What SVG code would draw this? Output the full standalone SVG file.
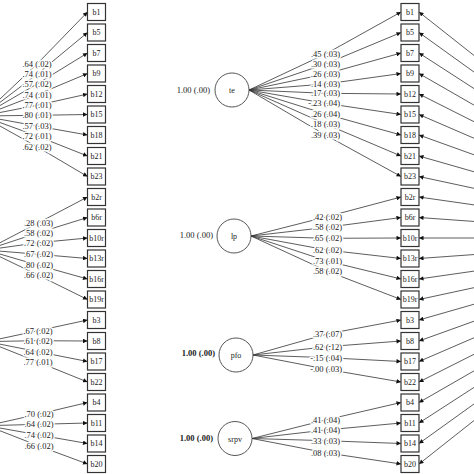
<svg xmlns="http://www.w3.org/2000/svg" width="474" height="474" viewBox="0 0 474 474">
<style>
.b{fill:#fff;stroke:#333;stroke-width:1.2}
.bt{font-family:"Liberation Serif",serif;font-size:8px;fill:#222;text-anchor:middle}
.c{fill:#fff;stroke:#444;stroke-width:0.9}
.e{fill:none;stroke:#333;stroke-width:0.8;marker-end:url(#ah)}
.l{font-family:"Liberation Serif",serif;font-size:8.5px;fill:#222;paint-order:stroke;stroke:#fff;stroke-width:3px;stroke-linejoin:round}
.lm{text-anchor:middle}
.le{text-anchor:end}
.v{font-family:"Liberation Serif",serif;font-size:8.5px;fill:#222;text-anchor:end}
</style>
<defs>
<marker id="ah" viewBox="0 0 6 6" refX="6" refY="3" markerWidth="5" markerHeight="4.5" orient="auto" markerUnits="userSpaceOnUse">
<path d="M0,0 L6,3 L0,6 z" fill="#111"/>
</marker>
</defs>
<rect width="474" height="474" fill="#fff"/>
<g id="connectors">
<polyline class="e" points="-18,116 37,64 87.5,12"/>
<polyline class="e" points="-18,116 37,74.3 87.5,32.5"/>
<polyline class="e" points="-18,116 37,84 87.5,53"/>
<polyline class="e" points="-18,116 37,94.7 87.5,73.5"/>
<polyline class="e" points="-18,116 37,105.3 87.5,94"/>
<polyline class="e" points="-18,116 37,115.3 87.5,114.5"/>
<polyline class="e" points="-18,116 37,126 87.5,135"/>
<polyline class="e" points="-18,116 37,136 87.5,156"/>
<polyline class="e" points="-18,116 37,146.7 87.5,176.5"/>
<polyline class="e" points="-14,250 38.5,222.7 87.5,197"/>
<polyline class="e" points="-14,250 38.5,232.7 87.5,217.5"/>
<polyline class="e" points="-14,250 38.5,242.7 87.5,238"/>
<polyline class="e" points="-14,250 38.5,254.3 87.5,258.5"/>
<polyline class="e" points="-14,250 38.5,265.3 87.5,279"/>
<polyline class="e" points="-14,250 38.5,275.3 87.5,299.5"/>
<polyline class="e" points="-13,341.6 38,330.7 87.5,320"/>
<polyline class="e" points="-13,341.6 38,340.7 87.5,341"/>
<polyline class="e" points="-13,341.6 38,351.7 87.5,361.5"/>
<polyline class="e" points="-13,341.6 38,362 87.5,382"/>
<polyline class="e" points="-13,425.7 39,414 87.5,402.5"/>
<polyline class="e" points="-13,425.7 39,424.3 87.5,423"/>
<polyline class="e" points="-13,425.7 39,435 87.5,443.5"/>
<polyline class="e" points="-13,425.7 39,446 87.5,464"/>
<polyline class="e" points="249,90 325.5,54 401,12"/>
<polyline class="e" points="249,90 325.5,64 401,32.5"/>
<polyline class="e" points="249,90 325.5,74 401,53"/>
<polyline class="e" points="249,90 325.5,84 401,73.5"/>
<polyline class="e" points="249,90 325.5,93.3 401,94"/>
<polyline class="e" points="249,90 325.5,103.3 401,114.5"/>
<polyline class="e" points="249,90 325.5,114 401,135"/>
<polyline class="e" points="249,90 325.5,124 401,156"/>
<polyline class="e" points="249,90 325.5,135 401,176.5"/>
<polyline class="e" points="251,236 327,216.7 401,197"/>
<polyline class="e" points="251,236 327,227.3 401,217.5"/>
<polyline class="e" points="251,236 327,238.3 401,238"/>
<polyline class="e" points="251,236 327,250 401,258.5"/>
<polyline class="e" points="251,236 327,261 401,279"/>
<polyline class="e" points="251,236 327,271 401,299.5"/>
<polyline class="e" points="253,355 327,334 401,320"/>
<polyline class="e" points="253,355 327,346.7 401,341"/>
<polyline class="e" points="253,355 327,357.7 401,361.5"/>
<polyline class="e" points="253,355 327,369.3 401,382"/>
<polyline class="e" points="252,438.5 325.5,420 401,402.5"/>
<polyline class="e" points="252,438.5 325.5,430 401,423"/>
<polyline class="e" points="252,438.5 325.5,440.7 401,443.5"/>
<polyline class="e" points="252,438.5 325.5,452.7 401,464"/>
<line class="e" x1="705" y1="238" x2="419" y2="12"/>
<line class="e" x1="705" y1="238" x2="419" y2="32.5"/>
<line class="e" x1="705" y1="238" x2="419" y2="53"/>
<line class="e" x1="705" y1="238" x2="419" y2="73.5"/>
<line class="e" x1="705" y1="238" x2="419" y2="94"/>
<line class="e" x1="705" y1="238" x2="419" y2="114.5"/>
<line class="e" x1="705" y1="238" x2="419" y2="135"/>
<line class="e" x1="705" y1="238" x2="419" y2="156"/>
<line class="e" x1="705" y1="238" x2="419" y2="176.5"/>
<line class="e" x1="705" y1="238" x2="419" y2="197"/>
<line class="e" x1="705" y1="238" x2="419" y2="217.5"/>
<line class="e" x1="705" y1="238" x2="419" y2="238"/>
<line class="e" x1="705" y1="238" x2="419" y2="258.5"/>
<line class="e" x1="705" y1="238" x2="419" y2="279"/>
<line class="e" x1="705" y1="238" x2="419" y2="299.5"/>
<line class="e" x1="705" y1="238" x2="419" y2="320"/>
<line class="e" x1="705" y1="238" x2="419" y2="341"/>
<line class="e" x1="705" y1="238" x2="419" y2="361.5"/>
<line class="e" x1="705" y1="238" x2="419" y2="382"/>
<line class="e" x1="705" y1="238" x2="419" y2="402.5"/>
<line class="e" x1="705" y1="238" x2="419" y2="423"/>
<line class="e" x1="705" y1="238" x2="419" y2="443.5"/>
<line class="e" x1="705" y1="238" x2="419" y2="464"/>
</g>
<g id="edge-labels">
<text class="l lm" x="37" y="67">.64 (.02)</text>
<text class="l lm" x="37" y="77.3">.74 (.01)</text>
<text class="l lm" x="37" y="87">.57 (.02)</text>
<text class="l lm" x="37" y="97.7">.74 (.01)</text>
<text class="l lm" x="37" y="108.3">.77 (.01)</text>
<text class="l lm" x="37" y="118.3">.80 (.01)</text>
<text class="l lm" x="37" y="129">.57 (.03)</text>
<text class="l lm" x="37" y="139">.72 (.01)</text>
<text class="l lm" x="37" y="149.7">.62 (.02)</text>
<text class="l lm" x="38.5" y="225.7">.28 (.03)</text>
<text class="l lm" x="38.5" y="235.7">.58 (.02)</text>
<text class="l lm" x="38.5" y="245.7">.72 (.02)</text>
<text class="l lm" x="38.5" y="257.3">.67 (.02)</text>
<text class="l lm" x="38.5" y="268.3">.80 (.02)</text>
<text class="l lm" x="38.5" y="278.3">.66 (.02)</text>
<text class="l lm" x="38" y="333.7">.67 (.02)</text>
<text class="l lm" x="38" y="343.7">.61 (.02)</text>
<text class="l lm" x="38" y="354.7">.64 (.02)</text>
<text class="l lm" x="38" y="365">.77 (.01)</text>
<text class="l lm" x="39" y="417">.70 (.02)</text>
<text class="l lm" x="39" y="427.3">.64 (.02)</text>
<text class="l lm" x="39" y="438">.74 (.02)</text>
<text class="l lm" x="39" y="449">.66 (.02)</text>
<text class="l le" x="340" y="57">.45 (.03)</text>
<text class="l le" x="340" y="67">.30 (.03)</text>
<text class="l le" x="340" y="77">.26 (.03)</text>
<text class="l le" x="340" y="87">.14 (.03)</text>
<text class="l le" x="340" y="96.3">.17 (.03)</text>
<text class="l le" x="340" y="106.3">-.23 (.04)</text>
<text class="l le" x="340" y="117">.26 (.04)</text>
<text class="l le" x="340" y="127">.18 (.03)</text>
<text class="l le" x="340" y="138">.39 (.03)</text>
<text class="l le" x="342" y="219.7">.42 (.02)</text>
<text class="l le" x="342" y="230.3">.58 (.02)</text>
<text class="l le" x="342" y="241.3">.65 (.02)</text>
<text class="l le" x="342" y="253">.62 (.02)</text>
<text class="l le" x="342" y="264">.73 (.01)</text>
<text class="l le" x="342" y="274">.58 (.02)</text>
<text class="l le" x="342" y="337">.37 (.07)</text>
<text class="l le" x="342" y="349.7">.62 (.12)</text>
<text class="l le" x="342" y="360.7">-.15 (.04)</text>
<text class="l le" x="342" y="372.3">-.00 (.03)</text>
<text class="l le" x="340" y="423">.41 (.04)</text>
<text class="l le" x="340" y="433">.41 (.04)</text>
<text class="l le" x="340" y="443.7">.33 (.03)</text>
<text class="l le" x="340" y="455.7">.08 (.03)</text>
</g>
<g id="te"><circle class="c" cx="232" cy="90" r="17"/><text class="bt" x="232" y="93">te</text><text class="v" x="210" y="93">1.00 (.00)</text></g>
<g id="lp"><circle class="c" cx="234" cy="236" r="17"/><text class="bt" x="234" y="239">lp</text><text class="v" x="213" y="238">1.00 (.00)</text></g>
<g id="pfo"><circle class="c" cx="236" cy="355" r="17"/><text class="bt" x="236" y="358">pfo</text><text class="v" x="215" y="356" font-weight="bold">1.00 (.00)</text></g>
<g id="srpv"><circle class="c" cx="235" cy="438.5" r="17"/><text class="bt" x="235" y="441.5">srpv</text><text class="v" x="213" y="441" font-weight="bold">1.00 (.00)</text></g>
<g id="L-b1"><rect class="b" x="87.5" y="3.5" width="18" height="17"/><text class="bt" x="96.5" y="14.8">b1</text></g>
<g id="L-b5"><rect class="b" x="87.5" y="24" width="18" height="17"/><text class="bt" x="96.5" y="35.3">b5</text></g>
<g id="L-b7"><rect class="b" x="87.5" y="44.5" width="18" height="17"/><text class="bt" x="96.5" y="55.8">b7</text></g>
<g id="L-b9"><rect class="b" x="87.5" y="65" width="18" height="17"/><text class="bt" x="96.5" y="76.3">b9</text></g>
<g id="L-b12"><rect class="b" x="87.5" y="85.5" width="18" height="17"/><text class="bt" x="96.5" y="96.8">b12</text></g>
<g id="L-b15"><rect class="b" x="87.5" y="106" width="18" height="17"/><text class="bt" x="96.5" y="117.3">b15</text></g>
<g id="L-b18"><rect class="b" x="87.5" y="126.5" width="18" height="17"/><text class="bt" x="96.5" y="137.8">b18</text></g>
<g id="L-b21"><rect class="b" x="87.5" y="147.5" width="18" height="17"/><text class="bt" x="96.5" y="158.8">b21</text></g>
<g id="L-b23"><rect class="b" x="87.5" y="168" width="18" height="17"/><text class="bt" x="96.5" y="179.3">b23</text></g>
<g id="L-b2r"><rect class="b" x="87.5" y="188.5" width="18" height="17"/><text class="bt" x="96.5" y="199.8">b2r</text></g>
<g id="L-b6r"><rect class="b" x="87.5" y="209" width="18" height="17"/><text class="bt" x="96.5" y="220.3">b6r</text></g>
<g id="L-b10r"><rect class="b" x="87.5" y="229.5" width="18" height="17"/><text class="bt" x="96.5" y="240.8">b10r</text></g>
<g id="L-b13r"><rect class="b" x="87.5" y="250" width="18" height="17"/><text class="bt" x="96.5" y="261.3">b13r</text></g>
<g id="L-b16r"><rect class="b" x="87.5" y="270.5" width="18" height="17"/><text class="bt" x="96.5" y="281.8">b16r</text></g>
<g id="L-b19r"><rect class="b" x="87.5" y="291" width="18" height="17"/><text class="bt" x="96.5" y="302.3">b19r</text></g>
<g id="L-b3"><rect class="b" x="87.5" y="311.5" width="18" height="17"/><text class="bt" x="96.5" y="322.8">b3</text></g>
<g id="L-b8"><rect class="b" x="87.5" y="332.5" width="18" height="17"/><text class="bt" x="96.5" y="343.8">b8</text></g>
<g id="L-b17"><rect class="b" x="87.5" y="353" width="18" height="17"/><text class="bt" x="96.5" y="364.3">b17</text></g>
<g id="L-b22"><rect class="b" x="87.5" y="373.5" width="18" height="17"/><text class="bt" x="96.5" y="384.8">b22</text></g>
<g id="L-b4"><rect class="b" x="87.5" y="394" width="18" height="17"/><text class="bt" x="96.5" y="405.3">b4</text></g>
<g id="L-b11"><rect class="b" x="87.5" y="414.5" width="18" height="17"/><text class="bt" x="96.5" y="425.8">b11</text></g>
<g id="L-b14"><rect class="b" x="87.5" y="435" width="18" height="17"/><text class="bt" x="96.5" y="446.3">b14</text></g>
<g id="L-b20"><rect class="b" x="87.5" y="455.5" width="18" height="17"/><text class="bt" x="96.5" y="466.8">b20</text></g>
<g id="R-b1"><rect class="b" x="401" y="3.5" width="18" height="17"/><text class="bt" x="410" y="14.8">b1</text></g>
<g id="R-b5"><rect class="b" x="401" y="24" width="18" height="17"/><text class="bt" x="410" y="35.3">b5</text></g>
<g id="R-b7"><rect class="b" x="401" y="44.5" width="18" height="17"/><text class="bt" x="410" y="55.8">b7</text></g>
<g id="R-b9"><rect class="b" x="401" y="65" width="18" height="17"/><text class="bt" x="410" y="76.3">b9</text></g>
<g id="R-b12"><rect class="b" x="401" y="85.5" width="18" height="17"/><text class="bt" x="410" y="96.8">b12</text></g>
<g id="R-b15"><rect class="b" x="401" y="106" width="18" height="17"/><text class="bt" x="410" y="117.3">b15</text></g>
<g id="R-b18"><rect class="b" x="401" y="126.5" width="18" height="17"/><text class="bt" x="410" y="137.8">b18</text></g>
<g id="R-b21"><rect class="b" x="401" y="147.5" width="18" height="17"/><text class="bt" x="410" y="158.8">b21</text></g>
<g id="R-b23"><rect class="b" x="401" y="168" width="18" height="17"/><text class="bt" x="410" y="179.3">b23</text></g>
<g id="R-b2r"><rect class="b" x="401" y="188.5" width="18" height="17"/><text class="bt" x="410" y="199.8">b2r</text></g>
<g id="R-b6r"><rect class="b" x="401" y="209" width="18" height="17"/><text class="bt" x="410" y="220.3">b6r</text></g>
<g id="R-b10r"><rect class="b" x="401" y="229.5" width="18" height="17"/><text class="bt" x="410" y="240.8">b10r</text></g>
<g id="R-b13r"><rect class="b" x="401" y="250" width="18" height="17"/><text class="bt" x="410" y="261.3">b13r</text></g>
<g id="R-b16r"><rect class="b" x="401" y="270.5" width="18" height="17"/><text class="bt" x="410" y="281.8">b16r</text></g>
<g id="R-b19r"><rect class="b" x="401" y="291" width="18" height="17"/><text class="bt" x="410" y="302.3">b19r</text></g>
<g id="R-b3"><rect class="b" x="401" y="311.5" width="18" height="17"/><text class="bt" x="410" y="322.8">b3</text></g>
<g id="R-b8"><rect class="b" x="401" y="332.5" width="18" height="17"/><text class="bt" x="410" y="343.8">b8</text></g>
<g id="R-b17"><rect class="b" x="401" y="353" width="18" height="17"/><text class="bt" x="410" y="364.3">b17</text></g>
<g id="R-b22"><rect class="b" x="401" y="373.5" width="18" height="17"/><text class="bt" x="410" y="384.8">b22</text></g>
<g id="R-b4"><rect class="b" x="401" y="394" width="18" height="17"/><text class="bt" x="410" y="405.3">b4</text></g>
<g id="R-b11"><rect class="b" x="401" y="414.5" width="18" height="17"/><text class="bt" x="410" y="425.8">b11</text></g>
<g id="R-b14"><rect class="b" x="401" y="435" width="18" height="17"/><text class="bt" x="410" y="446.3">b14</text></g>
<g id="R-b20"><rect class="b" x="401" y="455.5" width="18" height="17"/><text class="bt" x="410" y="466.8">b20</text></g>
</svg>
